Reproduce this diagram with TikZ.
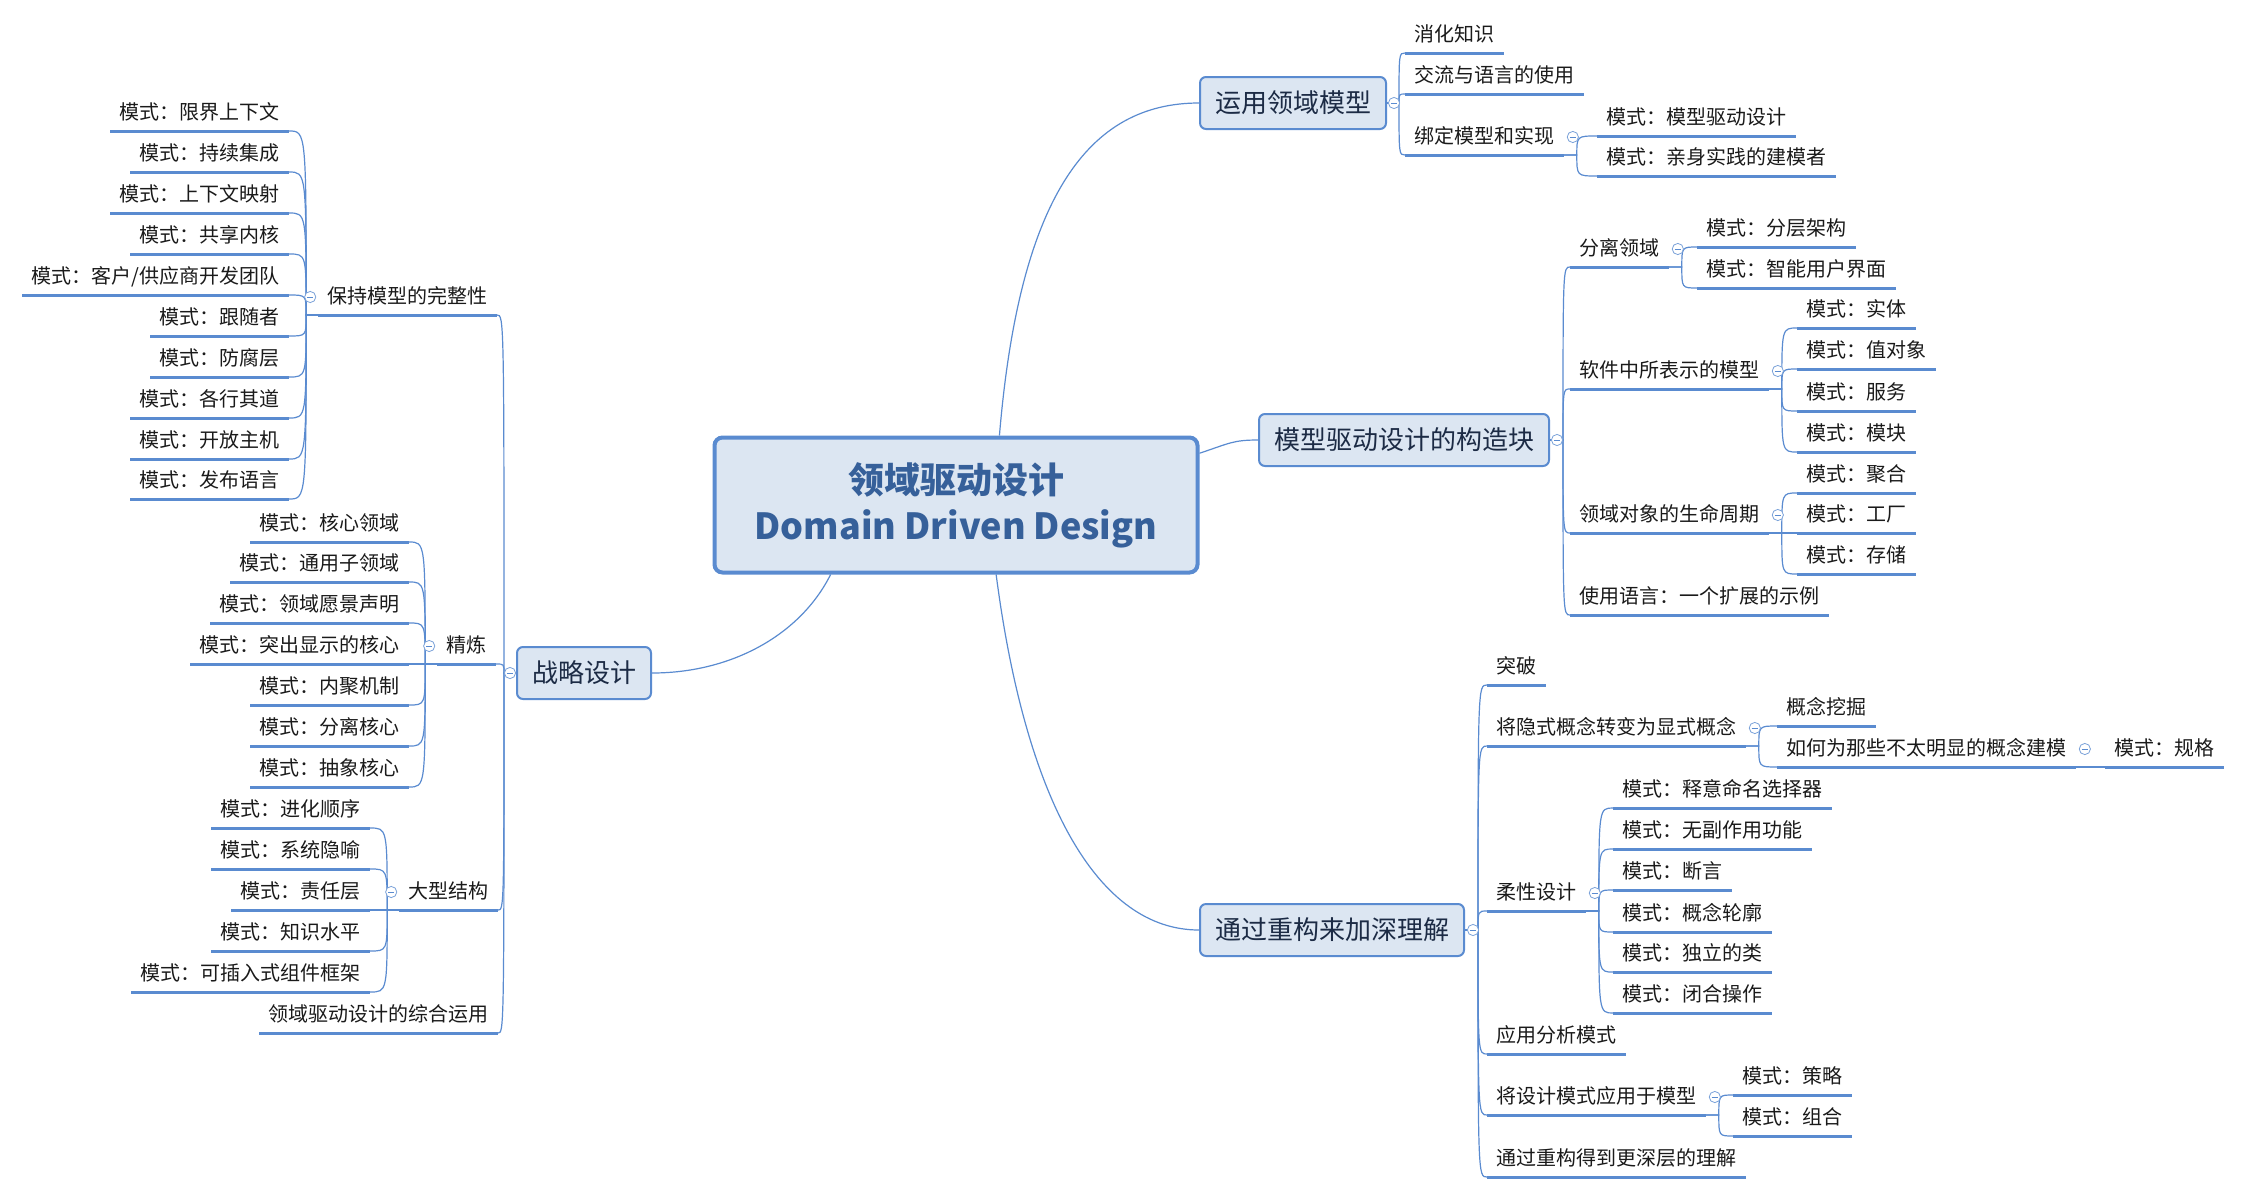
\documentclass[tikz,border=0pt]{standalone}
\usepackage{fontspec}
\setmainfont{Noto Sans CJK SC}
\usetikzlibrary{positioning}

\definecolor{lineblue}{HTML}{5A8BD0}
\definecolor{boxfill}{HTML}{DCE6F2}
\definecolor{roottext}{HTML}{36609A}
\definecolor{topictext}{HTML}{1C2B45}
\definecolor{leaftext}{HTML}{1A1A1A}

\tikzset{
    conn/.style={draw=lineblue, line width=0.6pt},
    uline/.style={draw=lineblue, line width=1.5pt},
    branch/.style={to path={-- ++(#1,0) coordinate (tmpbrk)
        .. controls (tmpbrk |- \tikztotarget) .. (\tikztotarget)}},
    branch/.default=13,
    root/.style={draw=lineblue, line width=2pt, fill=boxfill,
        rounded corners=4pt, minimum width=241.5pt, minimum height=67.5pt,
        align=center, text=roottext,
        font=\fontsize{18}{23}\selectfont\bfseries},
    topic/.style={draw=lineblue, line width=1pt, fill=boxfill,
        rounded corners=3pt, inner xsep=7.5pt, minimum height=26pt,
        text=topictext, font=\fontsize{13}{15}\selectfont},
    leaf/.style={inner xsep=4.5pt, inner ysep=4pt, text height=8.5pt,
        text depth=1.5pt, text=leaftext, font=\fontsize{10}{12}\selectfont,
        append after command={(\tikzlastnode.south west) edge[uline]
        (\tikzlastnode.south east)}},
    rleaf/.style={leaf, anchor=south west},
    lleaf/.style={leaf, anchor=south east},
    fold/.style={circle, draw=lineblue!80, line width=0.4pt, fill=white,
        minimum size=5.6pt, inner sep=0pt,
        path picture={\draw[lineblue, line width=0.45pt]
        ([xshift=-1.6pt]path picture bounding box.center) --
        ([xshift=1.6pt]path picture bounding box.center);}}
}

\begin{document}
\begin{tikzpicture}[x=0.5pt,y=-0.5pt]
    \useasboundingbox (0,0) rectangle (2241,1194);

    \node[root] (ddd) at (956,505) {领域驱动设计\\Domain Driven Design};

    \node[topic, anchor=west] (apply) at (1199,103) {运用领域模型};
    \node[topic, anchor=west] (blocks) at (1258,440) {模型驱动设计的构造块};
    \node[topic, anchor=west] (refactor) at (1199,930) {通过重构来加深理解};
    \node[topic, anchor=east] (strategy) at (652,673) {战略设计};

    \node[rleaf] (digest) at (1405,53) {消化知识};
    \node[rleaf] (language) at (1405,94) {交流与语言的使用};
    \node[rleaf] (binding) at (1405,155) {绑定模型和实现};
    \node[rleaf] (mdd) at (1597,136) {模式：模型驱动设计};
    \node[rleaf] (handson) at (1597,176) {模式：亲身实践的建模者};

    \node[rleaf] (isolate) at (1570,267) {分离领域};
    \node[rleaf] (layered) at (1697,247) {模式：分层架构};
    \node[rleaf] (smartui) at (1697,288) {模式：智能用户界面};
    \node[rleaf] (expressed) at (1570,389) {软件中所表示的模型};
    \node[rleaf] (entity) at (1797,328) {模式：实体};
    \node[rleaf] (valueobj) at (1797,369) {模式：值对象};
    \node[rleaf] (service) at (1797,411) {模式：服务};
    \node[rleaf] (module) at (1797,452) {模式：模块};
    \node[rleaf] (lifecycle) at (1570,533) {领域对象的生命周期};
    \node[rleaf] (aggregate) at (1797,493) {模式：聚合};
    \node[rleaf] (factory) at (1797,533) {模式：工厂};
    \node[rleaf] (repository) at (1797,574) {模式：存储};
    \node[rleaf] (example) at (1570,615) {使用语言：一个扩展的示例};

    \node[rleaf] (breakthrough) at (1487,685) {突破};
    \node[rleaf] (implicit) at (1487,746) {将隐式概念转变为显式概念};
    \node[rleaf] (digging) at (1777,726) {概念挖掘};
    \node[rleaf] (unobvious) at (1777,767) {如何为那些不太明显的概念建模};
    \node[rleaf] (spec) at (2105,767) {模式：规格};
    \node[rleaf] (supple) at (1487,911) {柔性设计};
    \node[rleaf] (intention) at (1613,808) {模式：释意命名选择器};
    \node[rleaf] (sidefree) at (1613,849) {模式：无副作用功能};
    \node[rleaf] (assertion) at (1613,890) {模式：断言};
    \node[rleaf] (contour) at (1613,932) {模式：概念轮廓};
    \node[rleaf] (standalone) at (1613,972) {模式：独立的类};
    \node[rleaf] (closure) at (1613,1013) {模式：闭合操作};
    \node[rleaf] (analysis) at (1487,1054) {应用分析模式};
    \node[rleaf] (patterns) at (1487,1115) {将设计模式应用于模型};
    \node[rleaf] (strategyp) at (1733,1095) {模式：策略};
    \node[rleaf] (composite) at (1733,1136) {模式：组合};
    \node[rleaf] (deeper) at (1487,1177) {通过重构得到更深层的理解};

    \node[lleaf] (integrity) at (497,315) {保持模型的完整性};
    \node[lleaf] (bounded) at (289,131) {模式：限界上下文};
    \node[lleaf] (ci) at (289,172) {模式：持续集成};
    \node[lleaf] (ctxmap) at (289,213) {模式：上下文映射};
    \node[lleaf] (kernel) at (289,254) {模式：共享内核};
    \node[lleaf] (custsup) at (289,295) {模式：客户/供应商开发团队};
    \node[lleaf] (conformist) at (289,336) {模式：跟随者};
    \node[lleaf] (acl) at (289,377) {模式：防腐层};
    \node[lleaf] (separate) at (289,418) {模式：各行其道};
    \node[lleaf] (ohs) at (289,459) {模式：开放主机};
    \node[lleaf] (published) at (289,499) {模式：发布语言};
    \node[lleaf] (distill) at (496,664) {精炼};
    \node[lleaf] (core) at (409,542) {模式：核心领域};
    \node[lleaf] (generic) at (409,582) {模式：通用子领域};
    \node[lleaf] (vision) at (409,623) {模式：领域愿景声明};
    \node[lleaf] (highlighted) at (409,664) {模式：突出显示的核心};
    \node[lleaf] (cohesive) at (409,705) {模式：内聚机制};
    \node[lleaf] (segregated) at (409,746) {模式：分离核心};
    \node[lleaf] (abstractcore) at (409,787) {模式：抽象核心};
    \node[lleaf] (largescale) at (498,910) {大型结构};
    \node[lleaf] (evolving) at (370,828) {模式：进化顺序};
    \node[lleaf] (metaphor) at (370,869) {模式：系统隐喻};
    \node[lleaf] (layers) at (370,910) {模式：责任层};
    \node[lleaf] (knowledge) at (370,951) {模式：知识水平};
    \node[lleaf] (pluggable) at (370,992) {模式：可插入式组件框架};
    \node[lleaf] (synthesis) at (498,1033) {领域驱动设计的综合运用};

    \draw[conn] (ddd.58) .. controls +(20,-240) and +(-110,0) .. (apply.west);
    \draw[conn] (ddd.12) .. controls +(30,-10) and +(-25,0) .. (blocks.west);
    \draw[conn] (ddd.-60) .. controls +(30,230) and +(-100,0) .. (refactor.west);
    \draw[conn] (ddd.209) .. controls +(-30,60) and +(80,0) .. (strategy.east);

    \foreach \kid in {digest,language,binding}
        \draw[conn] (apply.east) to[branch=12] (\kid.south west);
    \foreach \kid in {mdd,handson}
        \draw[conn] (binding.south east) to[branch] (\kid.south west);
    \foreach \kid in {isolate,expressed,lifecycle,example}
        \draw[conn] (blocks.east) to[branch] (\kid.south west);
    \foreach \kid in {layered,smartui}
        \draw[conn] (isolate.south east) to[branch] (\kid.south west);
    \foreach \kid in {entity,valueobj,service,module}
        \draw[conn] (expressed.south east) to[branch] (\kid.south west);
    \foreach \kid in {aggregate,factory,repository}
        \draw[conn] (lifecycle.south east) to[branch] (\kid.south west);
    \foreach \kid in {breakthrough,implicit,supple,analysis,patterns,deeper}
        \draw[conn] (refactor.east) to[branch] (\kid.south west);
    \foreach \kid in {digging,unobvious}
        \draw[conn] (implicit.south east) to[branch] (\kid.south west);
    \draw[conn] (unobvious.south east) -- (spec.south west);
    \foreach \kid in {intention,sidefree,assertion,contour,standalone,closure}
        \draw[conn] (supple.south east) to[branch] (\kid.south west);
    \foreach \kid in {strategyp,composite}
        \draw[conn] (patterns.south east) to[branch] (\kid.south west);

    \foreach \kid in {integrity,distill,largescale,synthesis}
        \draw[conn] (strategy.west) to[branch=-12] (\kid.south east);
    \foreach \kid in {bounded,ci,ctxmap,kernel,custsup,conformist,acl,separate,ohs,published}
        \draw[conn] (integrity.south west) to[branch=-12] (\kid.south east);
    \foreach \kid in {core,generic,vision,highlighted,cohesive,segregated,abstractcore}
        \draw[conn] (distill.south west) to[branch=-12] (\kid.south east);
    \foreach \kid in {evolving,metaphor,layers,knowledge,pluggable}
        \draw[conn] (largescale.south west) to[branch=-12] (\kid.south east);

    \node[fold] (fapply) at ([xshift=3.5pt]apply.east) {};
    \node[fold] (fblocks) at ([xshift=3.5pt]blocks.east) {};
    \node[fold] (frefactor) at ([xshift=4pt]refactor.east) {};
    \node[fold] (fstrategy) at ([xshift=-3pt]strategy.west) {};
    \foreach \up in {binding,isolate,expressed,lifecycle,implicit,unobvious,supple,patterns}
        \node[fold] (f\up) at ([xshift=4.5pt,yshift=9pt]\up.south east) {};
    \foreach \up in {integrity,distill,largescale}
        \node[fold] (f\up) at ([xshift=-4pt,yshift=9pt]\up.south west) {};
\end{tikzpicture}
\end{document}
